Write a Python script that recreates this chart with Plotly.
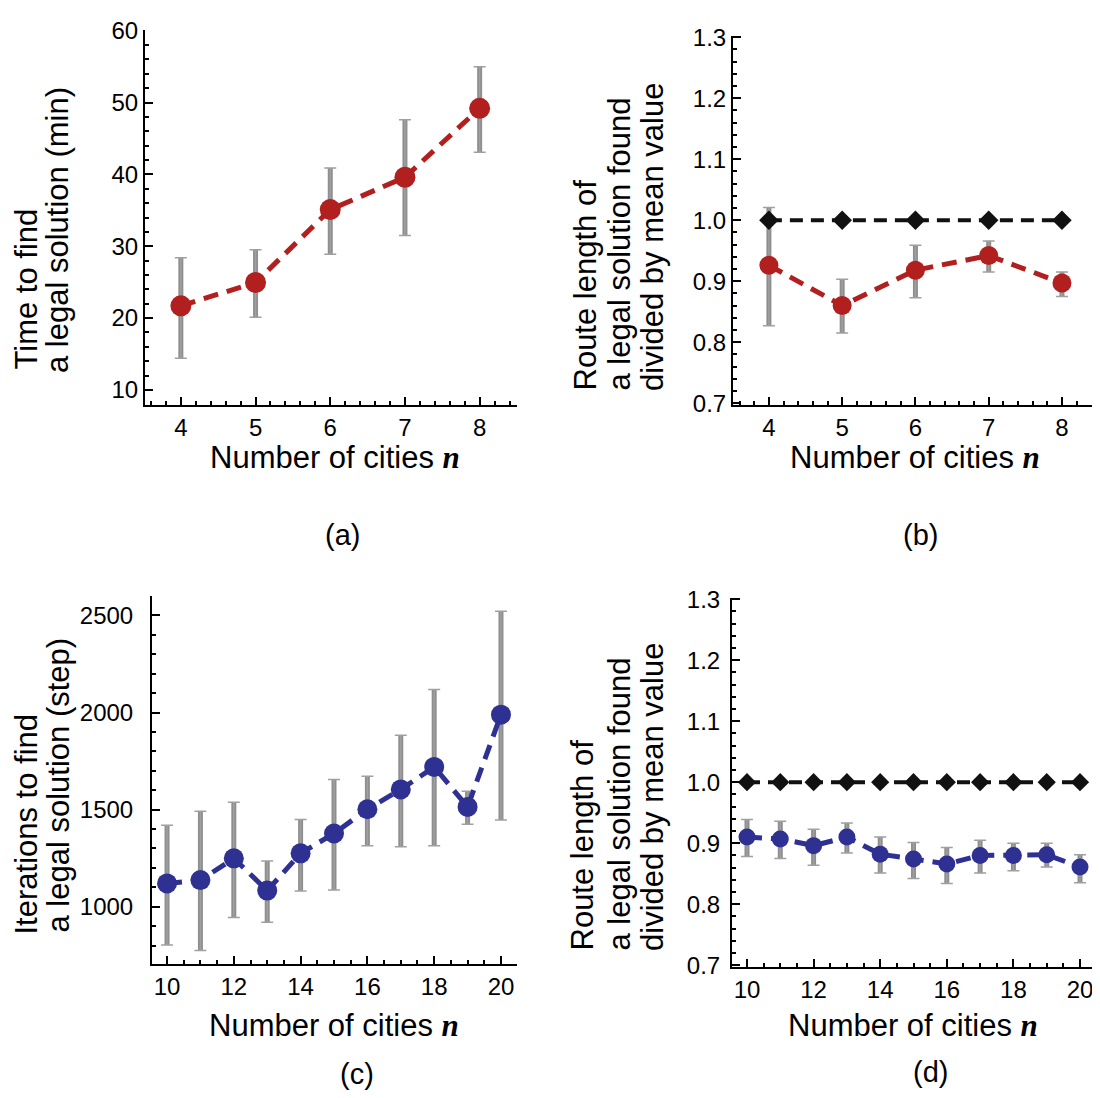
import plotly.graph_objects as go

# page body keeps an 8px margin, so the figure is drawn 16px smaller
W, H = 1084, 1082
OFF = 8

# (a) time to find a legal solution, n = 4..8
n_small = [4, 5, 6, 7, 8]
time_mean = [21.7, 24.95, 35.1, 39.6, 49.2]
time_hi = [28.4, 29.5, 40.9, 47.6, 55.0]
time_lo = [14.4, 20.1, 28.9, 31.5, 43.1]

# (b) route length ratio, n = 4..8
route_small = [0.926, 0.860, 0.918, 0.942, 0.897]
route_small_hi = [1.021, 0.903, 0.959, 0.966, 0.915]
route_small_lo = [0.827, 0.815, 0.873, 0.915, 0.875]
mean_small = [1.0, 1.0, 1.0, 1.0, 1.0]

# (c) iterations to find a legal solution, n = 10..20
n_large = [10, 11, 12, 13, 14, 15, 16, 17, 18, 19, 20]
iter_mean = [1120, 1137, 1249, 1083, 1275, 1377, 1502, 1604, 1720, 1514, 1989]
iter_hi = [1420, 1492, 1538, 1235, 1449, 1655, 1672, 1883, 2118, 1595, 2522]
iter_lo = [803, 774, 945, 920, 1081, 1086, 1314, 1309, 1314, 1424, 1446]

# (d) route length ratio, n = 10..20
route_large = [0.910, 0.907, 0.896, 0.910, 0.882, 0.874, 0.866, 0.880, 0.880, 0.881, 0.861]
route_large_hi = [0.939, 0.936, 0.923, 0.933, 0.910, 0.901, 0.893, 0.905, 0.900, 0.900, 0.881]
route_large_lo = [0.878, 0.875, 0.864, 0.884, 0.851, 0.842, 0.834, 0.851, 0.855, 0.861, 0.835]
mean_large = [1.0] * 11

RED = '#B21F1F'
BLUE = '#2E3192'
GRAY = '#8E8E8E'
CAP = '#A0A0A0'
FONT = 'Liberation Sans, Arial, Helvetica, sans-serif'


def px_x(p):
    return min(max((p - OFF) / W, 0), 1)


def px_y(p):
    return min(max(1 - (p - OFF) / H, 0), 1)


fig = go.Figure()


def add_errors(xa, ya, x, y, hi, lo):
    plus = [h - v for h, v in zip(hi, y)]
    minus = [v - l for v, l in zip(y, lo)]
    # thick bar without caps
    fig.add_trace(go.Scatter(
        x=x, y=y, xaxis=xa, yaxis=ya, mode='markers',
        marker=dict(size=1, color='rgba(0,0,0,0)'),
        error_y=dict(type='data', symmetric=False, array=plus, arrayminus=minus,
                     color=GRAY, thickness=5, width=0),
        showlegend=False, hoverinfo='skip'))
    # thin caps
    fig.add_trace(go.Scatter(
        x=x, y=y, xaxis=xa, yaxis=ya, mode='markers',
        marker=dict(size=1, color='rgba(0,0,0,0)'),
        error_y=dict(type='data', symmetric=False, array=plus, arrayminus=minus,
                     color=CAP, thickness=1.5, width=6),
        showlegend=False, hoverinfo='skip'))


def add_series(xa, ya, x, y, color, size):
    fig.add_trace(go.Scatter(
        x=x, y=y, xaxis=xa, yaxis=ya, mode='lines+markers',
        line=dict(color=color, width=5, dash='15px,9px'),
        marker=dict(color=color, size=size, symbol='circle'),
        showlegend=False))


def add_reference(xa, ya, x, y, size):
    fig.add_trace(go.Scatter(
        x=x, y=y, xaxis=xa, yaxis=ya, mode='lines+markers',
        line=dict(color='#111111', width=4, dash='13px,8px'),
        marker=dict(color='#111111', size=size, symbol='diamond'),
        showlegend=False))


# (a)
add_errors('x', 'y', n_small, time_mean, time_hi, time_lo)
add_series('x', 'y', n_small, time_mean, RED, 21)
# (b)
add_errors('x2', 'y2', n_small, route_small, route_small_hi, route_small_lo)
add_reference('x2', 'y2', n_small, mean_small, 15)
add_series('x2', 'y2', n_small, route_small, RED, 19)
# (c)
add_errors('x3', 'y3', n_large, iter_mean, iter_hi, iter_lo)
add_series('x3', 'y3', n_large, iter_mean, BLUE, 20)
# (d)
add_errors('x4', 'y4', n_large, route_large, route_large_hi, route_large_lo)
add_reference('x4', 'y4', n_large, mean_large, 14)
add_series('x4', 'y4', n_large, route_large, BLUE, 17)

minor_style = dict(ticks='inside', ticklen=4, tickwidth=1.5, tickcolor='black')
axis_style = dict(showline=True, linecolor='black', linewidth=2, mirror=False,
                  showgrid=False, zeroline=False, ticks='inside', ticklen=8,
                  tickwidth=2, tickcolor='black', automargin=False,
                  ticklabeloverflow='allow',
                  tickfont=dict(family=FONT, size=24, color='black'))

fig.update_layout(
    width=W, height=H,
    margin=dict(l=0, r=0, t=0, b=0, pad=0, autoexpand=False),
    paper_bgcolor='white', plot_bgcolor='white',
    font=dict(family=FONT, color='black'),
    xaxis=dict(axis_style, domain=[px_x(145), px_x(517)], range=[3.52, 8.5],
               dtick=1, minor=dict(minor_style, dtick=0.2), anchor='y'),
    yaxis=dict(axis_style, domain=[px_y(405), px_y(30)], range=[7.9, 60.1],
               dtick=10, tick0=0, minor=dict(minor_style, dtick=2), anchor='x'),
    xaxis2=dict(axis_style, domain=[px_x(733), px_x(1092)], range=[3.51, 8.41],
                dtick=1, minor=dict(minor_style, dtick=0.2), anchor='y2'),
    yaxis2=dict(axis_style, domain=[px_y(405), px_y(36)], range=[0.697, 1.302],
                dtick=0.1, tick0=0.7, tickformat='.1f',
                minor=dict(minor_style, dtick=0.02), anchor='x2'),
    xaxis3=dict(axis_style, domain=[px_x(152), px_x(517)], range=[9.55, 20.48],
                dtick=2, minor=dict(minor_style, dtick=0.5), anchor='y3'),
    yaxis3=dict(axis_style, domain=[px_y(964), px_y(596)], range=[705, 2600],
                dtick=500, tick0=0, ticklabelstandoff=12,
                minor=dict(minor_style, dtick=100), anchor='x3'),
    xaxis4=dict(axis_style, domain=[px_x(732), px_x(1092)], range=[9.55, 20.36],
                dtick=2, minor=dict(minor_style, dtick=0.5), anchor='y4'),
    yaxis4=dict(axis_style, domain=[px_y(967), px_y(598)], range=[0.697, 1.302],
                dtick=0.1, tick0=0.7, tickformat='.1f', ticklabelstandoff=5,
                minor=dict(minor_style, dtick=0.02), anchor='x4'),
)

xtitle = "Number of cities <span style=\"font-family:'Liberation Serif', 'Times New Roman', serif\"><b><i>n</i></b></span>"

annotations = [
    # x titles
    dict(text=xtitle, x=335, y=458, size=31, angle=0, xa='center', ya='middle'),
    dict(text=xtitle, x=915, y=458, size=31, angle=0, xa='center', ya='middle'),
    dict(text=xtitle, x=334, y=1025, size=31, angle=0, xa='center', ya='middle'),
    dict(text=xtitle, x=913, y=1025, size=31, angle=0, xa='center', ya='middle'),
    # panel labels
    dict(text='(a)', x=342, y=535, size=29, angle=0, xa='center', ya='middle'),
    dict(text='(b)', x=920, y=535, size=29, angle=0, xa='center', ya='middle'),
    dict(text='(c)', x=357, y=1074, size=29, angle=0, xa='center', ya='middle'),
    dict(text='(d)', x=930, y=1072, size=29, angle=0, xa='center', ya='middle'),
    # y titles, one annotation per line so that lines start at the same height
    dict(text='Time to find', x=26, y=372, size=31, angle=-90, xa='center', ya='bottom'),
    dict(text='a legal solution (min)', x=58, y=375, size=31, angle=-90, xa='center', ya='bottom'),
    dict(text='Route length of', x=585, y=393, size=31, angle=-90, xa='center', ya='bottom'),
    dict(text='a legal solution found', x=619, y=393, size=31, angle=-90, xa='center', ya='bottom'),
    dict(text='divided by mean value', x=653, y=393, size=31, angle=-90, xa='center', ya='bottom'),
    dict(text='Iterations to find', x=26, y=937, size=31, angle=-90, xa='center', ya='bottom'),
    dict(text='a legal solution (step)', x=58, y=935, size=31, angle=-90, xa='center', ya='bottom'),
    dict(text='Route length of', x=582, y=953, size=31, angle=-90, xa='center', ya='bottom'),
    dict(text='a legal solution found', x=619, y=953, size=31, angle=-90, xa='center', ya='bottom'),
    dict(text='divided by mean value', x=652, y=953, size=31, angle=-90, xa='center', ya='bottom'),
]

for a in annotations:
    fig.add_annotation(
        text=a['text'], xref='paper', yref='paper',
        x=px_x(a['x']), y=px_y(a['y']),
        xanchor=a['xa'], yanchor=a['ya'], textangle=a['angle'],
        align='left', showarrow=False,
        font=dict(family=FONT, size=a['size'], color='black'))

fig.write_html('out.html')
